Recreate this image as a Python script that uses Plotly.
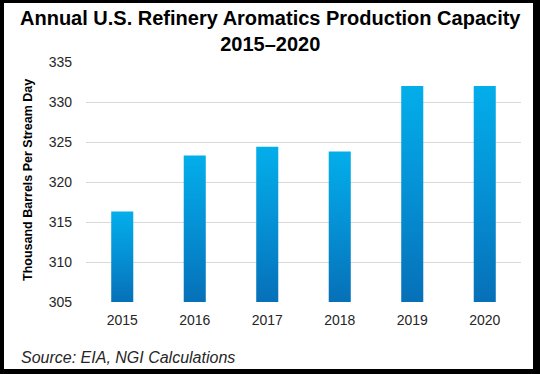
import plotly.graph_objects as go

years = ["2015", "2016", "2017", "2018", "2019", "2020"]
capacity = [316.3, 323.3, 324.4, 323.8, 332.0, 332.0]
y_ticks = [305, 310, 315, 320, 325, 330, 335]

base = 305
half_w = 0.152

fig = go.Figure()
for i, v in enumerate(capacity):
    fig.add_trace(go.Scatter(
        x=[i - half_w, i + half_w, i + half_w, i - half_w, i - half_w],
        y=[base, base, v, v, base],
        mode="lines",
        line=dict(width=0),
        fill="toself",
        fillgradient=dict(
            type="vertical",
            colorscale=[[0, "#0670B8"], [0.5, "#0590D4"], [1, "#03AEEA"]],
        ),
        hoverinfo="skip",
        showlegend=False,
    ))

W, H = 540, 374
L, R, T, B = 86, 19, 62, 72
pw, ph = W - L - R, H - T - B

def px_x(p):
    return (p - L) / pw

def px_y(p):
    return (H - B - p) / ph

fig.add_shape(type="rect", xref="paper", yref="paper",
              x0=px_x(4), x1=px_x(533), y0=px_y(369), y1=px_y(3),
              fillcolor="white", line=dict(width=0), layer="below")

fig.update_layout(
    width=W, height=H,
    margin=dict(l=L, r=R, t=T, b=B),
    paper_bgcolor="black",
    plot_bgcolor="white",
    font=dict(family="Liberation Sans, Arial, sans-serif", color="#262626"),
    xaxis=dict(
        range=[-0.5, 5.5],
        tickmode="array", tickvals=list(range(len(years))), ticktext=years,
        showgrid=False, zeroline=False, showline=False,
        ticks="", ticklabelstandoff=8,
        tickfont=dict(size=14, color="#262626"),
        fixedrange=True,
    ),
    yaxis=dict(
        range=[305, 335],
        tickmode="array", tickvals=y_ticks,
        showgrid=True, gridcolor="#D9D9D9", gridwidth=1,
        zeroline=False, showline=False,
        ticks="", ticklabelstandoff=13,
        tickfont=dict(size=14, color="#262626"),
        fixedrange=True,
    ),
    annotations=[
        dict(text="<b>Annual U.S. Refinery Aromatics Production Capacity<br>2015–2020</b>",
             xref="paper", yref="paper", x=px_x(270), y=px_y(5),
             xanchor="center", yanchor="top",
             showarrow=False, font=dict(size=20, color="black")),
        dict(text="<b>Thousand Barrels Per Stream Day</b>",
             xref="paper", yref="paper", x=px_x(28), y=px_y(180),
             xanchor="center", yanchor="middle", textangle=-90,
             showarrow=False, font=dict(size=12.5, color="black")),
        dict(text="<i>Source: EIA, NGI Calculations</i>",
             xref="paper", yref="paper", x=px_x(19), y=px_y(357),
             xanchor="left", yanchor="middle",
             showarrow=False, font=dict(size=16, color="#262626")),
    ],
)

fig.write_html(
    "out.html",
    config={"displayModeBar": False},
    post_script="document.body.style.margin='0';document.body.style.overflow='hidden';",
)
